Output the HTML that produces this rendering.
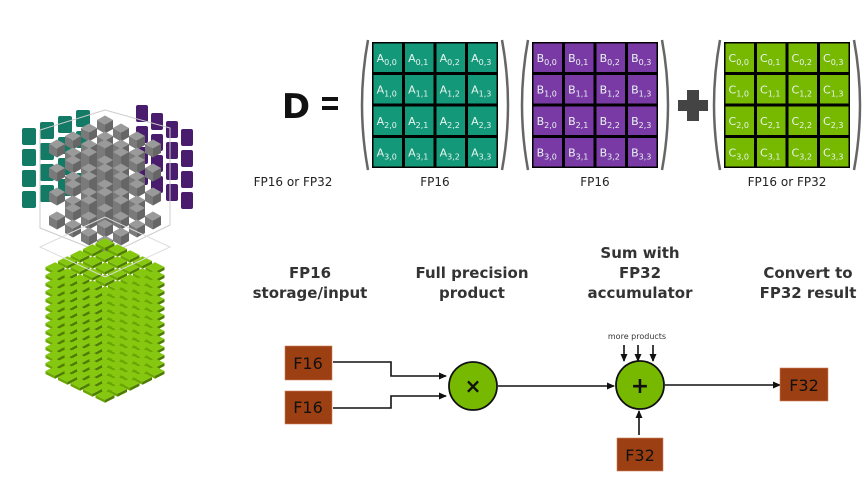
<!DOCTYPE html>
<html><head><meta charset="utf-8"><style>
body{margin:0;background:#fff;width:865px;height:485px;overflow:hidden}
svg{display:block;font-family:"DejaVu Sans","Liberation Sans",sans-serif}
</style></head><body>
<svg id="s" width="865" height="485" viewBox="0 0 865 485" xmlns="http://www.w3.org/2000/svg">
<defs>
<marker id="ar" markerWidth="8" markerHeight="8" refX="7" refY="4" orient="auto" markerUnits="userSpaceOnUse"><path d="M0,0.5 L8,4 L0,7.5 z" fill="#111"/></marker>
</defs>
<g id="cube"></g>
<g id="mats"></g>
<text x="296" y="118" font-size="34" font-weight="bold" text-anchor="middle" fill="#111">D</text>
<rect x="322" y="97" width="16" height="4" fill="#111"/><rect x="322" y="106" width="16" height="4" fill="#111"/>
<text x="293" y="186" font-size="12" text-anchor="middle" fill="#222">FP16 or FP32</text>
<rect x="678" y="100" width="30" height="11" fill="#444"/><rect x="687" y="90" width="12" height="31" fill="#444"/>
<g font-size="15" font-weight="bold" fill="#333" text-anchor="middle">
<text x="310" y="278">FP16</text><text x="310" y="298">storage/input</text>
<text x="472" y="278">Full precision</text><text x="472" y="298">product</text>
<text x="640" y="258">Sum with</text><text x="640" y="278">FP32</text><text x="640" y="298">accumulator</text>
<text x="808" y="278">Convert to</text><text x="808" y="298">FP32 result</text>
</g>
<g stroke="#111" stroke-width="1.6" fill="none">
<path d="M333,362 H391 V376 H446" marker-end="url(#ar)"/>
<path d="M333,408 H391 V396 H446" marker-end="url(#ar)"/>
<path d="M498,386 H614" marker-end="url(#ar)"/>
<path d="M665,385 H780" marker-end="url(#ar)"/>
<path d="M639,435 V411" marker-end="url(#ar)"/>
<path d="M624,345 V361" marker-end="url(#ar)"/>
<path d="M638,345 V361" marker-end="url(#ar)"/>
<path d="M653,345 V361" marker-end="url(#ar)"/>
</g>
<text x="637" y="339" font-size="8" text-anchor="middle" fill="#333">more products</text>
<g fill="#9c3f12" stroke="#d08060" stroke-width="0.6">
<rect x="285" y="346" width="47" height="34"/><rect x="285" y="391" width="47" height="33"/>
<rect x="617" y="438" width="46" height="33"/><rect x="780" y="368" width="48" height="33"/>
</g>
<g font-size="16" fill="#111" text-anchor="middle">
<text x="308" y="369">F16</text><text x="308" y="413">F16</text>
<text x="640" y="461">F32</text><text x="804" y="391">F32</text>
</g>
<circle cx="473" cy="386" r="24" fill="#76b900" stroke="#111" stroke-width="1.8"/>
<circle cx="640" cy="385" r="24" fill="#76b900" stroke="#111" stroke-width="1.8"/>
<text x="473" y="393" font-size="20" font-weight="bold" text-anchor="middle" fill="#111">×</text>
<text x="640" y="393" font-size="22" font-weight="bold" text-anchor="middle" fill="#111">+</text>
</svg>
<script>
var NS="http://www.w3.org/2000/svg";
function el(p,t,a,txt){var e=document.createElementNS(NS,t);for(var k in a)e.setAttribute(k,a[k]);if(txt!=null)e.textContent=txt;p.appendChild(e);return e;}
var m=document.getElementById("mats");
[[372,"#14987a","A","FP16"],[532,"#7a3aa6","B","FP16"],[724,"#76b900","C","FP16 or FP32"]].forEach(function(d){
 var x=d[0],y=42,w=126,c=w/4;
 el(m,"rect",{x:x,y:y,width:w,height:w,fill:"#000"});
 for(var i=0;i<4;i++)for(var j=0;j<4;j++){
  el(m,"rect",{x:x+j*c+1.5,y:y+i*c+1.5,width:c-3,height:c-3,fill:d[1]});
  var t=el(m,"text",{x:x+j*c+c/2-1,y:y+i*c+c/2+4,"font-size":11,fill:"#e8f4ee","text-anchor":"middle"},d[2]);
  el(t,"tspan",{"font-size":8,dy:3},i+","+j);
 }
 el(m,"path",{d:"M"+(x-4)+","+(y-2)+" Q"+(x-16)+","+(y+63)+" "+(x-4)+","+(y+128),stroke:"#666","stroke-width":2.5,fill:"none"});
 el(m,"path",{d:"M"+(x+w+4)+","+(y-2)+" Q"+(x+w+16)+","+(y+63)+" "+(x+w+4)+","+(y+128),stroke:"#666","stroke-width":2.5,fill:"none"});
 el(m,"text",{x:x+w/2,y:186,"font-size":12,fill:"#222","text-anchor":"middle"},d[3]);
});
var g=document.getElementById("cube");
function box(cx,cy,hw,hh,th,top,l,r){
 el(g,"path",{d:"M"+(cx-hw)+","+cy+" L"+cx+","+(cy+hh)+" L"+cx+","+(cy+hh+th)+" L"+(cx-hw)+","+(cy+th)+"Z",fill:l});
 el(g,"path",{d:"M"+(cx+hw)+","+cy+" L"+cx+","+(cy+hh)+" L"+cx+","+(cy+hh+th)+" L"+(cx+hw)+","+(cy+th)+"Z",fill:r});
 el(g,"path",{d:"M"+(cx-hw)+","+cy+" L"+cx+","+(cy-hh)+" L"+(cx+hw)+","+cy+" L"+cx+","+(cy+hh)+"Z",fill:top});
}
for(var i=0;i<4;i++)for(var j=0;j<4;j++){el(g,"rect",{x:22+j*18,y:128-j*6+i*21,width:14,height:17,rx:2,fill:"#137a66"});}
for(var i=0;i<4;i++)for(var j=0;j<4;j++){el(g,"rect",{x:136+j*15,y:105+j*8+i*21,width:12,height:17,rx:2,fill:"#4a1c6e"});}
el(g,"path",{d:"M40,130 L105,110 L170,128 L170,225 L108,255 L40,228 Z",fill:"none",stroke:"#ccc"});
for(var L=0;L<4;L++)for(var i=0;i<4;i++)for(var j=0;j<4;j++){
 var cx=105+(i-j)*16, cy=120+(i+j)*8+L*24;
 box(cx,cy,8,4.5,9,"#9a9a9a","#7a7a7a","#666");
}
for(var L=0;L<14;L++)for(var i=0;i<5;i++)for(var j=0;j<5;j++){
 if(L>0 && i<4 && j<4) continue;
 var cx=105+(i-j)*12.5, cy=243+(i+j)*6+L*8;
 box(cx,cy,9.5,4.8,3,"#86c810","#6aa800","#4e7c00");
}
el(g,"path",{d:"M40,247 L105,217 L170,247 L105,277 Z",fill:"none",stroke:"#ddd"});
</script>
</body></html>
